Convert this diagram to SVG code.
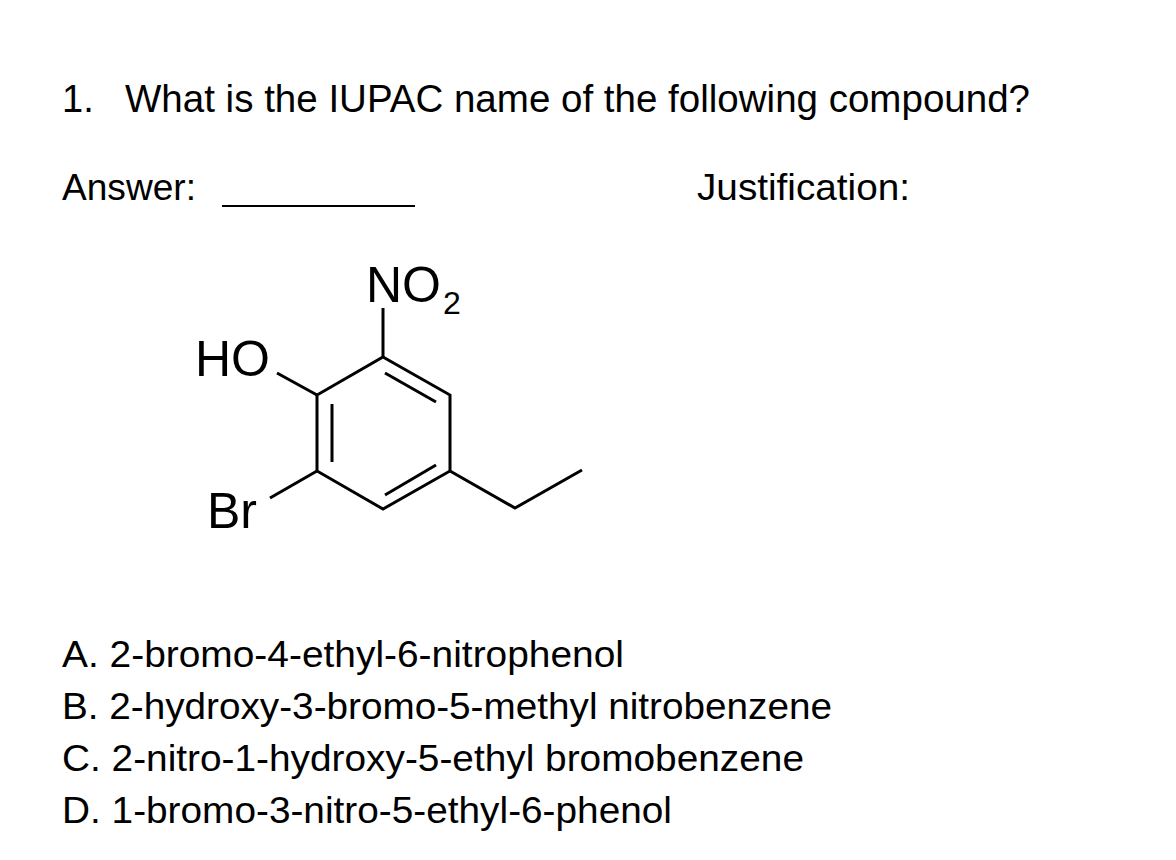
<svg xmlns="http://www.w3.org/2000/svg" width="1176" height="860" viewBox="0 0 1176 860">
<style>
text{font-family:"Liberation Sans",Arial,sans-serif;fill:#000}
.q{font-size:38px}.h{font-size:36px}.o{font-size:37px}.a{font-size:50px}.s{font-size:32px}
line,polyline{stroke:#000;stroke-width:3;fill:none;stroke-linecap:butt}
</style>
<rect width="1176" height="860" fill="#fff"/>
<text class="q" x="62" y="112">1.</text>
<text class="q" x="125" y="112" textLength="905" lengthAdjust="spacingAndGlyphs">What is the IUPAC name of the following compound?</text>
<text class="h" x="62" y="200" textLength="134" lengthAdjust="spacingAndGlyphs">Answer:</text>
<line x1="222" y1="206" x2="415" y2="206" style="stroke-width:2"/>
<text class="h" x="697" y="200" textLength="213" lengthAdjust="spacingAndGlyphs">Justification:</text>
<g id="molecule">
<polygon points="383,357 450,395 450,471 383,509 317,471 317,395" style="stroke:#000;stroke-width:3;fill:none;stroke-linejoin:miter"/>
<line x1="385" y1="373" x2="436" y2="402"/>
<line x1="332" y1="404" x2="332" y2="462"/>
<line x1="385" y1="495" x2="436" y2="465"/>
<line x1="383" y1="357" x2="383" y2="308"/>
<line x1="317" y1="395" x2="277" y2="373"/>
<line x1="317" y1="471" x2="270" y2="498"/>
<polyline points="450,471 515,508 582,470"/>
</g>
<g id="labels">
<text class="a" x="366" y="302">NO</text><text class="s" x="443" y="314">2</text>
<text class="a" x="195" y="376">HO</text>
<text class="a" x="207" y="528">Br</text>
</g>
<text class="o" x="62" y="667" textLength="562" lengthAdjust="spacingAndGlyphs">A. 2-bromo-4-ethyl-6-nitrophenol</text>
<text class="o" x="62" y="719" textLength="770" lengthAdjust="spacingAndGlyphs">B. 2-hydroxy-3-bromo-5-methyl nitrobenzene</text>
<text class="o" x="62" y="771" textLength="742" lengthAdjust="spacingAndGlyphs">C. 2-nitro-1-hydroxy-5-ethyl bromobenzene</text>
<text class="o" x="62" y="823" textLength="610" lengthAdjust="spacingAndGlyphs">D. 1-bromo-3-nitro-5-ethyl-6-phenol</text>
</svg>
